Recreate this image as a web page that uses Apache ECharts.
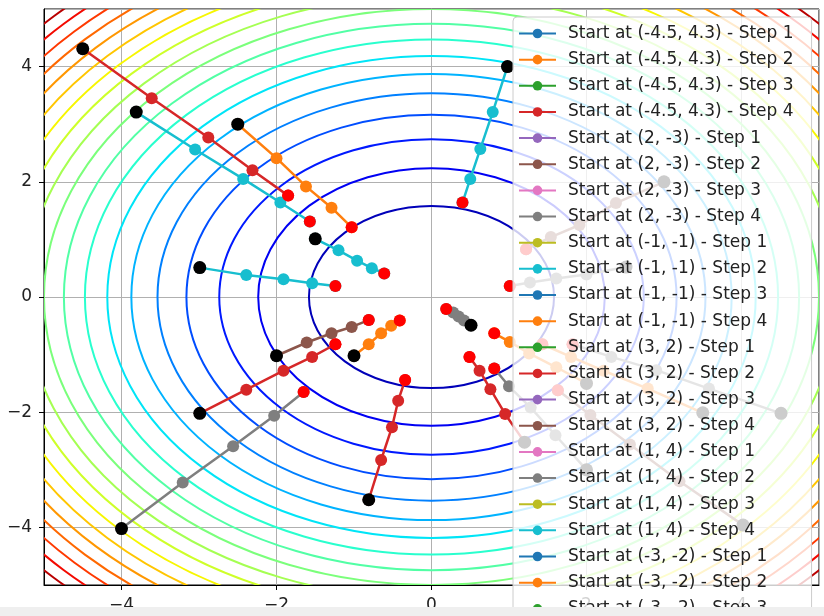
<!DOCTYPE html>
<html>
<head>
<meta charset="utf-8">
<script src="https://cdn.jsdelivr.net/npm/echarts@6/dist/echarts.min.js"></script>
<style>
  html, body { margin: 0; padding: 0; background: #fff; }
  #chart { width: 824px; height: 616px; }
</style>
</head>
<body>
<div id="chart"></div>
<script>
// contour levels of f(x, y) = x^2 + y^2 (colour range 0..50)
const contourLevels = [2.5, 5, 7.5, 10, 12.5, 15, 17.5, 20, 22.5, 25, 27.5, 30, 32.5, 35, 37.5, 40, 42.5, 45, 47.5];
const levelRange = [0, 50];

const startLabels = ["(-4.5, 4.3)", "(2, -3)", "(-1, -1)", "(3, 2)", "(1, 4)", "(-3, -2)"];
const stepLabels = ["Step 1", "Step 2", "Step 3", "Step 4"];

// descent paths: first point = start, last = end
const paths = [
  [[-4.5, 4.31], [-3.61, 3.45], [-2.88, 2.77], [-2.31, 2.2], [-1.85, 1.76]],
  [[-3.81, 3.21], [-3.05, 2.56], [-2.43, 2.05], [-1.95, 1.64], [-1.57, 1.31]],
  [[-2.5, 3.0], [-2.0, 2.41], [-1.62, 1.92], [-1.29, 1.55], [-1.03, 1.21]],
  [[-1.5, 1.01], [-1.2, 0.81], [-0.96, 0.63], [-0.77, 0.5], [-0.61, 0.41]],
  [[-2.99, 0.51], [-2.39, 0.38], [-1.91, 0.31], [-1.54, 0.24], [-1.24, 0.19]],
  [[0.98, 4.0], [0.79, 3.21], [0.63, 2.57], [0.5, 2.05], [0.4, 1.64]],
  [[-2.0, -1.02], [-1.61, -0.79], [-1.29, -0.63], [-1.03, -0.52], [-0.81, -0.4]],
  [[-1.0, -1.02], [-0.81, -0.82], [-0.65, -0.63], [-0.52, -0.5], [-0.41, -0.41]],
  [[-2.99, -2.02], [-2.39, -1.61], [-1.91, -1.28], [-1.54, -1.04], [-1.24, -0.82]],
  [[-4.0, -4.02], [-3.21, -3.22], [-2.56, -2.59], [-2.03, -2.06], [-1.65, -1.65]],
  [[-0.81, -3.52], [-0.65, -2.83], [-0.51, -2.26], [-0.43, -1.8], [-0.34, -1.44]],
  [[0.51, -0.49], [0.42, -0.41], [0.35, -0.34], [0.28, -0.27], [0.19, -0.21]],
  [[3.0, 2.0], [2.38, 1.63], [1.91, 1.25], [1.54, 1.04], [1.22, 0.83]],
  [[2.51, 0.52], [2.0, 0.39], [1.61, 0.32], [1.27, 0.25], [1.01, 0.19]],
  [[4.51, -2.02], [3.58, -1.59], [2.9, -1.27], [2.32, -1.04], [1.82, -0.82]],
  [[3.5, -2.01], [2.79, -1.59], [2.22, -1.28], [1.8, -1.04], [1.43, -0.82]],
  [[2.0, -1.5], [1.61, -1.22], [1.26, -0.98], [1.01, -0.78], [0.81, -0.63]],
  [[1.2, -2.52], [0.95, -2.03], [0.76, -1.6], [0.62, -1.28], [0.49, -1.04]],
  [[2.0, -3.0], [1.6, -2.4], [1.28, -1.92], [1.0, -1.55], [0.81, -1.24]],
  [[4.02, -3.96], [3.2, -3.2], [2.56, -2.56], [2.05, -2.05], [1.63, -1.62]]
];
// legend entry each path belongs to
const pathSeries = [3, 9, 1, 9, 9, 19, 5, 11, 23, 17, 13, 17, 15, 7, 7, 21, 21, 13, 7, 5];

const palette = ["#1f77b4", "#ff7f0e", "#2ca02c", "#d62728", "#9467bd",
                 "#8c564b", "#e377c2", "#7f7f7f", "#bcbd22", "#17becf"];

// matplotlib "jet"
function jet(t) {
  const interp = (pts) => {
    for (let i = 1; i < pts.length; i++) {
      if (t <= pts[i][0]) {
        const [x0, y0] = pts[i - 1], [x1, y1] = pts[i];
        return y0 + (y1 - y0) * (t - x0) / (x1 - x0);
      }
    }
    return pts[pts.length - 1][1];
  };
  const r = interp([[0, 0], [0.35, 0], [0.66, 1], [0.89, 1], [1, 0.5]]);
  const g = interp([[0, 0], [0.125, 0], [0.375, 1], [0.64, 1], [0.91, 0], [1, 0]]);
  const b = interp([[0, 0.5], [0.11, 1], [0.34, 1], [0.65, 0], [1, 0]]);
  return `rgb(${Math.round(r * 255)},${Math.round(g * 255)},${Math.round(b * 255)})`;
}

const legendNames = [];
startLabels.forEach((s) => stepLabels.forEach((k) => legendNames.push(`Start at ${s} - ${k}`)));

const minus = (v) => String(v).replace("-", "\u2212");
const font = "DejaVu Sans";

const series = [];

series.push({
  type: "custom",
  name: "contours",
  coordinateSystem: "cartesian2d",
  clip: true,
  silent: true,
  z: 1,
  data: contourLevels.map((l) => [0, 0, l]),
  encode: { x: 0, y: 1 },
  renderItem: (params, api) => {
    const lev = api.value(2);
    const r = Math.sqrt(lev);
    const c = api.coord([0, 0]);
    const e = api.coord([r, r]);
    const rx = e[0] - c[0];
    const ry = c[1] - e[1];
    const d = `M ${c[0] - rx} ${c[1]} A ${rx} ${ry} 0 1 0 ${c[0] + rx} ${c[1]} ` +
              `A ${rx} ${ry} 0 1 0 ${c[0] - rx} ${c[1]} Z`;
    const t = (lev - levelRange[0]) / (levelRange[1] - levelRange[0]);
    return {
      type: "path",
      shape: { pathData: d },
      style: { fill: "none", stroke: jet(t), lineWidth: 2 }
    };
  }
});

// one line series per legend entry (empty ones keep the legend complete)
legendNames.forEach((name, i) => {
  const color = palette[i % palette.length];
  const own = paths.filter((p, j) => pathSeries[j] === i);
  const list = own.length ? own : [[]];
  list.forEach((p) => {
    series.push({
      type: "line",
      name: name,
      data: p,
      color: color,
      symbol: "circle",
      symbolSize: 12,
      showSymbol: true,
      lineStyle: { width: 2.5, color: color },
      itemStyle: { color: color, opacity: 1 },
      silent: true,
      z: 2
    });
  });
});

series.push({
  type: "scatter",
  name: "start",
  data: paths.map((p) => p[0]),
  symbolSize: 13,
  itemStyle: { color: "#000000", opacity: 1 },
  silent: true,
  z: 3
});
series.push({
  type: "scatter",
  name: "end",
  data: paths.map((p) => p[p.length - 1]),
  symbolSize: 12,
  itemStyle: { color: "#ff0000", opacity: 1 },
  silent: true,
  z: 3
});

const axisCommon = {
  type: "value",
  min: -5,
  max: 5,
  splitNumber: 5,
  axisLine: { show: true, onZero: false, lineStyle: { color: "#000", width: 1 } },
  axisTick: { show: true, length: 5, lineStyle: { color: "#000" } },
  splitLine: { show: true, lineStyle: { color: "#b0b0b0", width: 1 } },
  axisLabel: {
    color: "#222",
    fontSize: 17,
    fontFamily: font,
    margin: 12,
    showMinLabel: false,
    showMaxLabel: false,
    formatter: minus
  }
};

const chart = echarts.init(document.getElementById("chart"), null, { renderer: "canvas" });
chart.setOption({
  animation: false,
  backgroundColor: "#ffffff",
  grid: {
    left: 44, right: 5, top: 9, bottom: 31,
    show: true, borderColor: "#000", borderWidth: 1
  },
  xAxis: axisCommon,
  yAxis: axisCommon,
  legend: {
    data: legendNames,
    orient: "vertical",
    left: 513,
    top: 17,
    height: 1500,
    padding: [8, 18, 8, 5],
    itemGap: 9.15,
    itemWidth: 37,
    itemHeight: 12,
    selectedMode: false,
    backgroundColor: "rgba(255,255,255,0.8)",
    borderColor: "#cccccc",
    borderWidth: 1,
    borderRadius: 4,
    z: 10,
    textStyle: { fontFamily: font, fontSize: 17, color: "#222", padding: [0, 0, 0, 7] }
  },
  graphic: [{
    type: "rect",
    left: 0,
    top: 607,
    z: 100,
    shape: { width: 824, height: 9 },
    style: { fill: "#efefef" }
  }],
  series: series
});
</script>
</body>
</html>
